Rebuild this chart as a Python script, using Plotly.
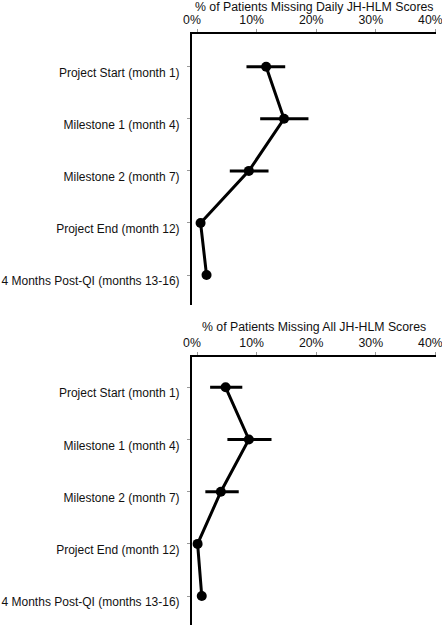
import plotly.graph_objects as go

# time points (same for both panels)
categories = [
    "Project Start (month 1)",
    "Milestone 1 (month 4)",
    "Milestone 2 (month 7)",
    "Project End (month 12)",
    "4 Months Post-QI (months 13-16)",
]

# % of patients missing daily JH-HLM scores, with interval ends
daily_pct = [11.6, 14.6, 8.7, 0.6, 1.6]
daily_lo = [8.3, 10.6, 5.5, 0.6, 1.6]
daily_hi = [14.8, 18.7, 12.0, 0.6, 1.6]

# % of patients missing all JH-HLM scores
all_pct = [4.8, 8.7, 4.0, 0.1, 0.8]
all_lo = [2.2, 5.1, 1.4, 0.1, 0.8]
all_hi = [7.6, 12.5, 7.0, 0.1, 0.8]

x_ticks = [0, 10, 20, 30, 40]

FONT = dict(family="Liberation Sans, Arial, sans-serif", size=12.3, color="#111")
YFONT = dict(FONT, size=12)


def series(vals, lo, hi, xa, ya):
    return go.Scatter(
        x=vals, y=categories, xaxis=xa, yaxis=ya,
        mode="lines+markers",
        line=dict(color="black", width=3),
        marker=dict(color="black", size=10),
        error_x=dict(type="data", symmetric=False,
                     array=[h - v for h, v in zip(hi, vals)],
                     arrayminus=[v - l for v, l in zip(vals, lo)],
                     color="black", thickness=3, width=0),
        showlegend=False, cliponaxis=False,
    )


fig = go.Figure()
fig.add_trace(series(daily_pct, daily_lo, daily_hi, "x", "y"))
fig.add_trace(series(all_pct, all_lo, all_hi, "x2", "y2"))

xcommon = dict(side="top", range=[-0.84, 40.1], tickvals=x_ticks,
               ticktext=[f"{t}%" for t in x_ticks],
               showline=True, linecolor="black", linewidth=1.5,
               ticks="outside", ticklen=3, tickcolor="#999",
               showgrid=False, zeroline=False, ticklabelshift=-5,
               ticklabelstandoff=0, ticklabeloverflow="allow",
               tickfont=FONT, automargin=False)
ycommon = dict(type="category", categoryorder="array", categoryarray=categories,
               showline=True, linecolor="black", linewidth=2,
               ticks="outside", ticklen=3, tickcolor="#999",
               showgrid=False, zeroline=False, tickfont=YFONT,
               ticklabelstandoff=5, ticklabelshift=-6,
               ticklabeloverflow="allow", automargin=False)

fig.update_layout(
    width=442, height=628,
    margin=dict(l=192, r=6, t=34, b=3),
    paper_bgcolor="white", plot_bgcolor="white",
    font=FONT,
    xaxis=dict(xcommon, anchor="y", domain=[0, 1]),
    yaxis=dict(ycommon, anchor="x", domain=[0.5415, 1], range=[4.574, -0.628]),
    xaxis2=dict(xcommon, anchor="y2", domain=[0, 1]),
    yaxis2=dict(ycommon, anchor="x2", domain=[0, 0.454], range=[4.554, -0.586]),
    annotations=[
        dict(text="% of Patients Missing Daily JH-HLM Scores", xref="x domain", yref="y domain",
             x=0.5, y=1, yshift=27, showarrow=False, yanchor="middle", font=FONT),
        dict(text="% of Patients Missing All JH-HLM Scores", xref="x2 domain", yref="y2 domain",
             x=0.5, y=1, yshift=30, showarrow=False, yanchor="middle", font=FONT),
    ],
)

# page body has a default margin; drop it so the figure sits at the corner
fig.write_html("out.html", config={"displayModeBar": False},
               post_script="document.body.style.margin='0';")
